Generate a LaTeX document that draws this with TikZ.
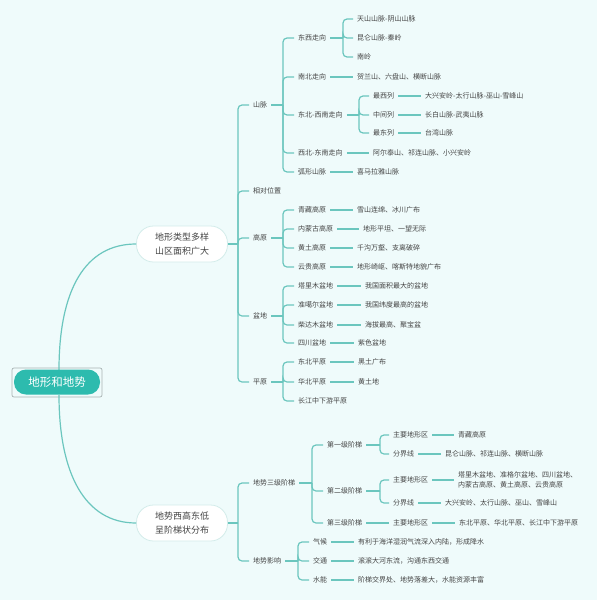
\documentclass[tikz,border=0pt]{standalone}
\usepackage{fontspec}
\setmainfont{Noto Sans CJK SC}
\definecolor{bg}{HTML}{EFFBFB}
\definecolor{lc}{HTML}{6BC6BE}
\definecolor{rc}{HTML}{2DBBAE}
\definecolor{tc}{HTML}{444444}
\definecolor{bd}{HTML}{D3ECEA}
\definecolor{sel}{HTML}{A9B4B4}
\tikzset{
 conn/.style={draw=lc, line width=1.2pt, rounded corners=4pt},
 t/.style={font=\fontsize{7}{9.5}\selectfont, text=tc, inner xsep=4pt, inner ysep=1pt, anchor=west, xshift=-4pt, align=left},
 mid/.style={draw=bd, line width=0.8pt, fill=white, rounded corners=17pt, minimum width=91pt, minimum height=36pt, align=center, font=\fontsize{9}{14}\selectfont, text=tc, inner sep=0pt},
 rootn/.style={fill=rc, rounded corners=12pt, minimum width=86pt, minimum height=25pt, text=white, font=\fontsize{11.5}{12}\selectfont, inner sep=0pt}
}
\newcommand{\mytree}[3]{%
 \draw[conn] (#1.east) -- (#1.east -| #2);
 \foreach \c in {#3} { \draw[conn] (#1.east -| #2) |- (\c.west); }
}
\newcommand{\mylink}[2]{\draw[conn] (#1.east) -- (#2.west);}
\begin{document}
\begin{tikzpicture}[x=1pt,y=-1pt]
\fill[bg] (0,0) rectangle (597,600);
\useasboundingbox (0,0) rectangle (597,600);
% bracket x positions
\coordinate (B1) at (238,0);
\coordinate (B2) at (283,0);
\coordinate (B3) at (343,0);
\coordinate (B4) at (359,0);
\coordinate (B5) at (312,0);
\coordinate (B6) at (380,0);
\coordinate (B7) at (298,0);
% root and main
\draw[sel, line width=0.7pt, rounded corners=2pt] (12,368) rectangle (102,397);
\node[mid] (n1) at (182,244) {地形类型多样\\山区面积广大};
\node[mid] (n2) at (182,523) {地势西高东低\\呈阶梯状分布};
\coordinate (rt) at (59,370);
\coordinate (rb) at (59,395);
\draw[conn] (rt) .. controls (59,290) and (85,244) .. (n1.west);
\draw[conn] (rb) .. controls (59,474) and (85,523) .. (n2.west);
\node[rootn] (root) at (57,382) {地形和地势};
% level 1 under n1
\node[t] (sm) at (253,105) {山脉};
\node[t] (xd) at (253,191) {相对位置};
\node[t] (gy) at (253,238) {高原};
\node[t] (pd) at (253,316) {盆地};
\node[t] (py) at (253,382) {平原};
\mytree{n1}{B1}{sm,xd,gy,pd,py}
% shanmai
\node[t] (dx) at (298,38) {东西走向};
\node[t] (nb) at (298,77) {南北走向};
\node[t] (db) at (298,115) {东北-西南走向};
\node[t] (xb) at (298,153) {西北-东南走向};
\node[t] (hx) at (298,172) {弧形山脉};
\mytree{sm}{B2}{dx,nb,db,xb,hx}
\node[t] (dx1) at (357,19) {天山山脉-阴山山脉};
\node[t] (dx2) at (357,38) {昆仑山脉-秦岭};
\node[t] (dx3) at (357,57) {南岭};
\mytree{dx}{B3}{dx1,dx2,dx3}
\node[t] (nb1) at (357,77) {贺兰山、六盘山、横断山脉};
\mylink{nb}{nb1}
\node[t] (db1) at (373,96) {最西列};
\node[t] (db2) at (373,115) {中间列};
\node[t] (db3) at (373,133) {最东列};
\mytree{db}{B4}{db1,db2,db3}
\node[t] (db1a) at (425,96) {大兴安岭-太行山脉-巫山-雪峰山};
\node[t] (db2a) at (425,115) {长白山脉-武夷山脉};
\node[t] (db3a) at (425,133) {台湾山脉};
\mylink{db1}{db1a}
\mylink{db2}{db2a}
\mylink{db3}{db3a}
\node[t] (xb1) at (373,153) {阿尔泰山、祁连山脉、小兴安岭};
\mylink{xb}{xb1}
\node[t] (hx1) at (357,172) {喜马拉雅山脉};
\mylink{hx}{hx1}
% gaoyuan
\node[t] (g1) at (298,210) {青藏高原};
\node[t] (g2) at (298,229) {内蒙古高原};
\node[t] (g3) at (298,248) {黄土高原};
\node[t] (g4) at (298,267) {云贵高原};
\mytree{gy}{B2}{g1,g2,g3,g4}
\node[t] (g1a) at (357,210) {雪山连绵、冰川广布};
\node[t] (g2a) at (363,229) {地形平坦、一望无际};
\node[t] (g3a) at (357,248) {千沟万壑、支离破碎};
\node[t] (g4a) at (357,267) {地形崎岖、喀斯特地貌广布};
\mylink{g1}{g1a}
\mylink{g2}{g2a}
\mylink{g3}{g3a}
\mylink{g4}{g4a}
% pendi
\node[t] (p1) at (298,286) {塔里木盆地};
\node[t] (p2) at (298,305) {准噶尔盆地};
\node[t] (p3) at (298,325) {柴达木盆地};
\node[t] (p4) at (298,343) {四川盆地};
\mytree{pd}{B2}{p1,p2,p3,p4}
\node[t] (p1a) at (365,286) {我国面积最大的盆地};
\node[t] (p2a) at (365,305) {我国纬度最高的盆地};
\node[t] (p3a) at (365,325) {海拔最高、聚宝盆};
\node[t] (p4a) at (358,343) {紫色盆地};
\mylink{p1}{p1a}
\mylink{p2}{p2a}
\mylink{p3}{p3a}
\mylink{p4}{p4a}
% pingyuan
\node[t] (q1) at (298,362) {东北平原};
\node[t] (q2) at (298,382) {华北平原};
\node[t] (q3) at (298,401) {长江中下游平原};
\mytree{py}{B2}{q1,q2,q3}
\node[t] (q1a) at (358,362) {黑土广布};
\node[t] (q2a) at (358,382) {黄土地};
\mylink{q1}{q1a}
\mylink{q2}{q2a}
% level 1 under n2
\node[t] (sj) at (253,483) {地势三级阶梯};
\node[t] (yx) at (253,561) {地势影响};
\mytree{n2}{B1}{sj,yx}
\node[t] (j1) at (327,445) {第一级阶梯};
\node[t] (j2) at (327,491) {第二级阶梯};
\node[t] (j3) at (327,523) {第三级阶梯};
\mytree{sj}{B5}{j1,j2,j3}
\node[t] (j1a) at (393,435) {主要地形区};
\node[t] (j1b) at (393,454) {分界线};
\mytree{j1}{B6}{j1a,j1b}
\node[t] (j1a1) at (458,435) {青藏高原};
\node[t] (j1b1) at (445,454) {昆仑山脉、祁连山脉、横断山脉};
\mylink{j1a}{j1a1}
\mylink{j1b}{j1b1}
\node[t] (j2a) at (393,480) {主要地形区};
\node[t] (j2b) at (393,503) {分界线};
\mytree{j2}{B6}{j2a,j2b}
\node[t] (j2a1) at (458,480) {塔里木盆地、准格尔盆地、四川盆地、\\内蒙古高原、黄土高原、云贵高原};
\node[t] (j2b1) at (445,503) {大兴安岭、太行山脉、巫山、雪峰山};
\mylink{j2a}{j2a1}
\mylink{j2b}{j2b1}
\node[t] (j3a) at (393,523) {主要地形区};
\mylink{j3}{j3a}
\node[t] (j3a1) at (459,523) {东北平原、华北平原、长江中下游平原};
\mylink{j3a}{j3a1}
% yingxiang
\node[t] (y1) at (313,542) {气候};
\node[t] (y2) at (313,561) {交通};
\node[t] (y3) at (313,580) {水能};
\mytree{yx}{B7}{y1,y2,y3}
\node[t] (y1a) at (358,542) {有利于海洋湿润气流深入内陆，形成降水};
\node[t] (y2a) at (358,561) {滚滚大河东流，沟通东西交通};
\node[t] (y3a) at (358,580) {阶梯交界处、地势落差大，水能资源丰富};
\mylink{y1}{y1a}
\mylink{y2}{y2a}
\mylink{y3}{y3a}
\end{tikzpicture}
\end{document}
